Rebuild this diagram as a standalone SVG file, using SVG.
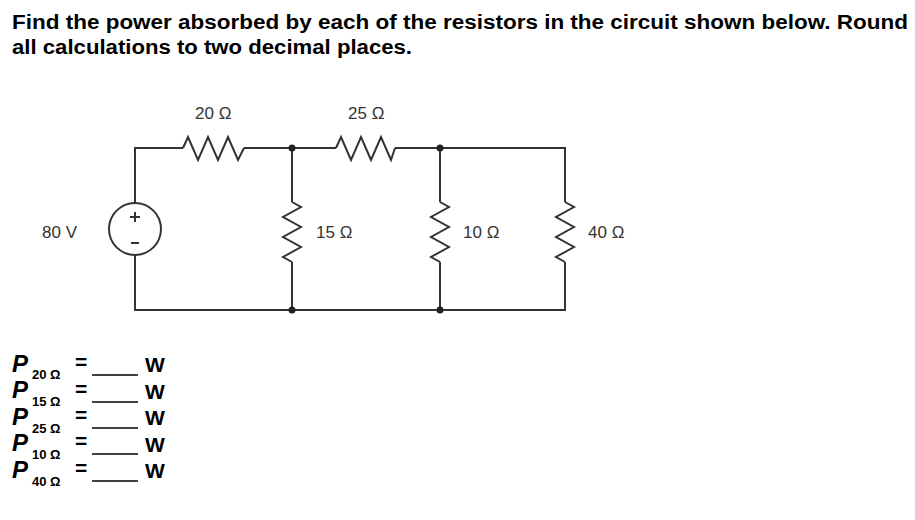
<svg xmlns="http://www.w3.org/2000/svg" width="915" height="520" viewBox="0 0 915 520">
<style>
.t{font-family:"Liberation Sans",Arial,sans-serif;font-weight:bold;font-size:20px;fill:#000}
.l{font-family:"Liberation Sans",Arial,sans-serif;font-size:17px;fill:#333}
.w{fill:none;stroke:#333;stroke-width:2;stroke-linejoin:miter}
.p{font-family:"Liberation Sans",Arial,sans-serif;font-weight:bold;font-style:italic;font-size:24px}
.s{font-family:"Liberation Sans",Arial,sans-serif;font-weight:bold;font-size:13px}
.e{font-family:"Liberation Sans",Arial,sans-serif;font-weight:bold;font-size:21px}
</style>
<rect width="915" height="520" fill="#fff"/>
<text class="t" x="12" y="29" textLength="896" lengthAdjust="spacingAndGlyphs">Find the power absorbed by each of the resistors in the circuit shown below. Round</text>
<text class="t" x="12" y="54" textLength="400" lengthAdjust="spacingAndGlyphs">all calculations to two decimal places.</text>
<g id="wires">
<path class="w" d="M135,203 V148 H183 M244,148 H336 M395,148 H565 V202 M565,262 V310 H135 V255 M292,148 V202 M292,262 V310 M440,148 V202 M440,262 V310"/>
</g>
<g id="V80">
<circle class="w" cx="135" cy="229" r="26"/>
<path class="w" stroke-width="1.5" d="M130,217 h10 M135,212 v10 M131,243 h8"/>
<text class="l" x="42" y="238">80 V</text>
</g>
<g id="R20">
<path class="w" d="M183,148 L188,137 L198,160 L208,137 L218,160 L228,137 L238,160 L244,148"/>
<text class="l" x="195" y="119">20 Ω</text>
</g>
<g id="R25">
<path class="w" d="M336,148 L341,137 L351,160 L361,137 L371,160 L381,137 L391,160 L395,148"/>
<text class="l" x="348" y="119">25 Ω</text>
</g>
<g id="R15">
<path class="w" d="M292,202 L301,207 L283,217 L301,227 L283,237 L301,247 L283,257 L292,262"/>
<text class="l" x="316" y="238">15 Ω</text>
</g>
<g id="R10">
<path class="w" d="M440,202 L449,207 L431,217 L449,227 L431,237 L449,247 L431,257 L440,262"/>
<text class="l" x="463" y="238">10 Ω</text>
</g>
<g id="R40">
<path class="w" d="M565,202 L574,207 L556,217 L574,227 L556,237 L574,247 L556,257 L565,262"/>
<text class="l" x="588" y="238">40 Ω</text>
</g>
<g id="nodes" fill="#222">
<circle cx="292" cy="148" r="3.5"/><circle cx="440" cy="148" r="3.5"/>
<circle cx="292" cy="310" r="3.5"/><circle cx="440" cy="310" r="3.5"/>
</g>
<g id="answers">
<g><text class="p" x="12" y="372">P</text><text class="s" x="32" y="379">20 Ω</text><text class="e" x="75" y="369">=</text><path d="M92,375 H138" stroke="#000" stroke-width="1.5"/><text class="e" x="145" y="372">W</text></g>
<g><text class="p" x="12" y="398">P</text><text class="s" x="32" y="406">15 Ω</text><text class="e" x="75" y="396">=</text><path d="M92,402 H138" stroke="#000" stroke-width="1.5"/><text class="e" x="145" y="399">W</text></g>
<g><text class="p" x="12" y="425">P</text><text class="s" x="32" y="433">25 Ω</text><text class="e" x="75" y="422">=</text><path d="M92,428 H138" stroke="#000" stroke-width="1.5"/><text class="e" x="145" y="425">W</text></g>
<g><text class="p" x="12" y="451">P</text><text class="s" x="32" y="459">10 Ω</text><text class="e" x="75" y="448">=</text><path d="M92,454 H138" stroke="#000" stroke-width="1.5"/><text class="e" x="145" y="452">W</text></g>
<g><text class="p" x="12" y="478">P</text><text class="s" x="32" y="486">40 Ω</text><text class="e" x="75" y="475">=</text><path d="M92,481 H138" stroke="#000" stroke-width="1.5"/><text class="e" x="145" y="478">W</text></g>
</g>
</svg>
